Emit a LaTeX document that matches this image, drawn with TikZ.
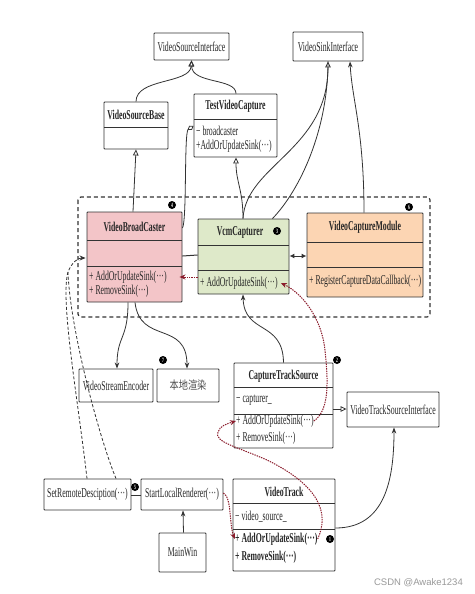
\documentclass[tikz,border=0pt]{standalone}
\usepackage{fontspec}
\setmainfont{Liberation Serif}[FakeStretch=0.575]
\newfontfamily\cjkfont{Noto Sans CJK SC}[FakeStretch=0.8]
\newfontfamily\wmfont{Liberation Sans}
\usetikzlibrary{arrows.meta}
\definecolor{linec}{HTML}{333333}
\definecolor{pinkc}{HTML}{F3C5C8}
\definecolor{greenc}{HTML}{DEE9C9}
\definecolor{peachc}{HTML}{FCD5B3}
\definecolor{redc}{HTML}{8B1C2C}
\tikzset{
  cls/.style={draw=linec, line width=0.9pt, inner sep=0pt, rounded corners=0.8pt},
  txt/.style={inner sep=0pt, text=black!85, font=\fontsize{13.5}{14}\selectfont},
  ttl/.style={txt, font=\fontsize{13.5}{14}\selectfont\bfseries},
  mem/.style={txt, anchor=west},
  divl/.style={draw=linec, line width=0.8pt},
  conn/.style={draw=linec, line width=0.8pt},
  inh/.style={conn, -{Triangle[open, length=6pt, width=5.5pt]}},
  dep/.style={conn, -{Stealth[length=6pt, width=4.5pt]}},
  reddot/.style={draw=redc, line width=1pt, dash pattern=on 1.4pt off 1pt, -{Stealth[length=6pt, width=5pt]}},
  blkdash/.style={draw=linec, line width=0.8pt, dash pattern=on 3pt off 2pt},
  badge/.style={circle, fill=black, text=white, inner sep=0pt, minimum size=8pt, font=\fontsize{6.5}{6.5}\selectfont\bfseries}
}
\newcommand{\umlbox}[6]{%
  \node[cls, fill=#6, minimum width={#4-#2}, minimum height={#5-#3}] (#1) at ({(#2+#4)/2},{(#3+#5)/2}) {};}
\begin{document}
\begin{tikzpicture}[x=1pt,y=-1pt]
\useasboundingbox (0,0) rectangle (474,594);
\fill[white] (0,0) rectangle (474,594);

% dashed group
\draw[linec, line width=1.2pt, dash pattern=on 4pt off 3pt, rounded corners=3pt] (78,197) rectangle (430,317);

% boxes
\umlbox{vsi}{154}{33}{229}{60}{white}
\node[txt] (vsit) at (vsi.center) {VideoSourceInterface};
\umlbox{vsk}{293}{32}{363}{61}{white}
\node[txt] (vskt) at (vsk.center) {VideoSinkInterface};

\umlbox{vsb}{104}{102}{168}{149}{white}
\draw[divl] (104,127) -- (168,127);
\node[ttl] (vsbt) at (136,114.5) {VideoSourceBase};

\umlbox{tvc}{194}{94}{277}{157}{white}
\draw[divl] (194,119) -- (277,119);
\node[ttl] (tvct) at (235.5,106.5) {TestVideoCapture};
\node[mem] (tvc1) at (196,131) {− broadcaster};
\node[mem] (tvc2) at (196,146) {+AddOrUpdateSink(···)};

\umlbox{vbc}{87}{212}{182}{302}{pinkc}
\draw[divl] (87,240) -- (182,240);
\draw[divl] (87,266) -- (182,266);
\node[ttl] (vbct) at (134.5,227) {VideoBroadCaster};
\node[mem] (vbc1) at (89,277) {+ AddOrUpdateSink(···)};
\node[mem] (vbc2) at (89,291) {+ RemoveSink(···)};
\node[badge] (b4) at (172,205) {4};

\umlbox{vcm}{198}{219}{289}{294}{greenc}
\draw[divl] (198,245) -- (289,245);
\draw[divl] (198,270) -- (289,270);
\node[ttl] (vcmt) at (240,232) {VcmCapturer};
\node[badge] (b3) at (277,231) {3};
\node[mem] (vcm1) at (200,283) {+ AddOrUpdateSink(···)};

\umlbox{vcmod}{307}{213}{423}{297}{peachc}
\draw[divl] (307,242) -- (423,242);
\draw[divl] (307,267) -- (423,267);
\node[ttl] (vcmodt) at (365,227) {VideoCaptureModule};
\node[badge] (b6) at (409,207) {6};
\node[mem] (vcmod1) at (309,281) {+ RegisterCaptureDataCallback(···)};

\umlbox{vse}{79}{369}{153}{402}{white}
\node[txt] (vset) at (vse.center) {VideoStreamEncoder};
\umlbox{bdxr}{157}{369}{219}{402}{white}
\node[txt, font=\cjkfont\fontsize{11.5}{12}\selectfont, text=black!70] (bdxrt) at (bdxr.center) {本地渲染};
\node[badge] (b7) at (163,360) {7};

\umlbox{cts}{234}{363}{333}{448}{white}
\draw[divl] (234,387) -- (333,387);
\draw[divl] (234,414) -- (333,414);
\node[ttl] (ctst) at (283.5,376) {CaptureTrackSource};
\node[mem] (cts1) at (236,400) {− capturer\_};
\node[mem] (cts2) at (236,421) {+ AddOrUpdateSink(···)};
\node[mem] (cts3) at (236,438) {+ RemoveSink(···)};
\node[badge] (b2) at (337,360) {2};

\umlbox{vtsi}{347}{392}{439}{427}{white}
\node[txt] (vtsit) at (vtsi.center) {VideoTrackSourceInterface};

\umlbox{srd}{44}{479}{131}{510}{white}
\node[txt] (srdt) at (srd.center) {SetRemoteDesciption(···)};
\node[badge] (b5) at (135,487) {5};
\umlbox{slr}{141}{479}{223}{510}{white}
\node[txt] (slrt) at (slr.center) {StartLocalRenderer(···)};
\umlbox{mw}{159}{533}{206}{572}{white}
\node[txt] (mwt) at (mw.center) {MainWin};

\umlbox{vt}{233}{479}{335}{571}{white}
\draw[divl] (233,503) -- (335,503);
\draw[divl] (233,529) -- (335,529);
\node[ttl] (vtt) at (284,492) {VideoTrack};
\node[mem] (vt1) at (235,517) {− video\_source\_};
\node[mem, font=\fontsize{13.5}{14}\selectfont\bfseries] (vt2) at (235,539) {+ AddOrUpdateSink(···)};
\node[mem, font=\fontsize{13.5}{14}\selectfont\bfseries] (vt3) at (235,557) {+ RemoveSink(···)};
\node[badge] (b1) at (330,539) {1};

% inheritance to VideoSourceInterface
\draw[inh] (vsb.north) .. controls (136,78) and (190,84) .. (vsi.south);
\draw[inh] ([xshift=0.5pt]tvc.north) .. controls (236,78) and (192,84) .. (vsi.south);
% aggregation
\draw[conn, {Diamond[open, length=7pt, width=5pt]}-] (tvc.west |- 0,126) .. controls (184,132) and (187,220) .. (vbc.east |- 0,228);
% VideoBroadCaster -> VideoSourceBase
\draw[inh] ([xshift=-1.5pt]vbc.north) -- (vsb.south);
% VcmCapturer -> TestVideoCapture
\draw[inh] ([xshift=-0.5pt]vcm.north) .. controls (243,190) and (236,182) .. ([xshift=0.5pt]tvc.south);
% VcmCapturer -> VideoSinkInterface (two lines)
\draw[inh] ([xshift=-0.5pt]vcm.north) .. controls (246,165) and (328,150) .. ([xshift=0pt]vsk.south);
\draw[conn] ([xshift=29pt]vcm.north) .. controls (300,190) and (328,130) .. (vsk.south);
% VideoCaptureModule -> VideoSinkInterface
\draw[dep] ([xshift=-1pt]vcmod.north) .. controls (364,130) and (352,100) .. ([xshift=22pt]vsk.south);
% VideoBroadCaster -- VcmCapturer
\draw[conn, line width=1pt] (vbc.east |- 0,256) -- (vcm.west |- 0,255);
% VcmCapturer <-> VideoCaptureModule
\draw[conn, line width=1pt, {Latex[length=5pt,width=5pt]}-{Latex[length=5pt,width=5pt]}] (vcm.east |- 0,256) -- (vcmod.west |- 0,256);
% red dotted calls
\draw[reddot] (vcm.west |- 0,277) -- ([xshift=-3pt]vbc.east |- 0,277);
\draw[reddot] (cts2.east) .. controls (330,410) and (328,380) .. (325,350) .. controls (321,315) and (300,292) .. ([xshift=3pt]vcm1.east);
\draw[reddot] (vt2.east) .. controls (330,512) and (318,485) .. (267,460) .. controls (235,446) and (214,442) .. (218,432) .. controls (220,426) and (226,424) .. (cts2.west);
\draw[reddot] (slr.east |- 0,493) .. controls (232,498) and (229,525) .. (vt2.west);
% CaptureTrackSource -> VcmCapturer
\draw[dep] (cts.north) .. controls (283,320) and (244,335) .. ([xshift=-0.5pt]vcm.south);
% CaptureTrackSource -> VideoTrackSourceInterface
\draw[inh] (cts.east |- 0,409) -- (vtsi.west |- 0,409);
% VideoTrack -> VideoTrackSourceInterface
\draw[dep] (vt.east |- 0,528) .. controls (385,528) and (394,480) .. ([xshift=1pt]vtsi.south);
% VideoBroadCaster -> encoder / render
\draw[dep] ([xshift=-6.5pt]vbc.south) .. controls (128,340) and (117,335) .. ([xshift=1pt]vse.north);
\draw[dep] ([xshift=0.5pt]vbc.south) .. controls (140,345) and (187,320) .. ([xshift=-1pt]bdxr.north);
% SetRemote -- StartLocal
\draw[conn, line width=1pt] (srd.east |- 0,495) -- (slr.west |- 0,495);
% MainWin -> StartLocalRenderer
\draw[dep] ([xshift=1pt]mw.north) -- ([xshift=0.5pt]mw.north |- slr.south);
% black dashed to VideoBroadCaster
\draw[blkdash, -{Stealth[length=6pt, width=5pt]}] ([xshift=-0.5pt]srd.north) .. controls (78,400) and (60,300) .. (68,272) .. controls (72,262) and (78,258) .. ([xshift=-1pt]vbc.west |- 0,258);
\draw[blkdash] ([xshift=28.5pt]srd.north) .. controls (100,440) and (70,330) .. (68,272);

% watermark
\node[inner sep=0pt, anchor=east, text=black!40, font=\wmfont\fontsize{9.5}{10}\selectfont] (wm) at (463,583) {CSDN @Awake1234};
\end{tikzpicture}
\end{document}
